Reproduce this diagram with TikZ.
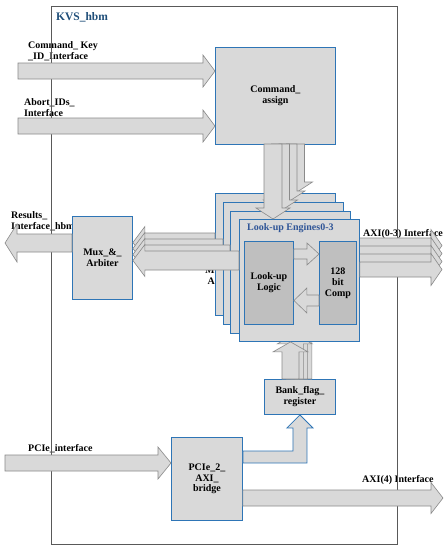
\documentclass[tikz,border=0pt]{standalone}
\usepackage{fontspec}
\setmainfont{Liberation Serif}
\usetikzlibrary{calc}
\definecolor{lgray}{HTML}{D9D9D9}
\definecolor{mgray}{HTML}{BFBFBF}
\definecolor{bblue}{HTML}{2E75B6}
\definecolor{agray}{HTML}{8A8A8A}
\definecolor{fgray}{HTML}{595959}
\definecolor{tblue}{HTML}{1F4E79}
\definecolor{eblue}{HTML}{2F5597}
% horizontal block arrow: from, to(tip), body half, head half, head length
\newcommand\harrow[6][]{\draw[arr,#1] let \p1=(#2),\p2=(#3),\n1={(\x2-\x1)/abs(\x2-\x1)*#6} in
  (\x1,{\y1+#4}) -- ({\x2-\n1},{\y1+#4}) -- ({\x2-\n1},{\y1+#5}) -- (\x2,\y1)
  -- ({\x2-\n1},{\y1-#5}) -- ({\x2-\n1},{\y1-#4}) -- (\x1,{\y1-#4}) -- cycle;}
% vertical block arrow
\newcommand\varrow[6][]{\draw[arr,#1] let \p1=(#2),\p2=(#3),\n1={(\y2-\y1)/abs(\y2-\y1)*#6} in
  ({\x1-#4},\y1) -- ({\x1-#4},{\y2-\n1}) -- ({\x1-#5},{\y2-\n1}) -- (\x1,\y2)
  -- ({\x1+#5},{\y2-\n1}) -- ({\x1+#4},{\y2-\n1}) -- ({\x1+#4},\y1) -- cycle;}
\begin{document}
\begin{tikzpicture}[x=1pt,y=-1pt,
  blk/.style={draw=bblue, fill=lgray, line width=0.9pt, inner sep=0pt, anchor=north west,
    align=center, font=\bfseries\fontsize{10}{10.8}\selectfont},
  arr/.style={draw=agray, fill=lgray, line width=0.6pt, line join=miter},
  lbl/.style={anchor=base west, inner sep=0pt, font=\bfseries\fontsize{10}{11}\selectfont}]
\useasboundingbox[fill=white] (0,0) rectangle (447,550);

% outside labels
\node[lbl] (l1) at (28,48.7) {Command\_ Key};
\node[lbl] (l2) at (28,59.3) {\_ID\_Interface};
\node[lbl] (l3) at (24,105.5) {Abort\_IDs\_};
\node[lbl] (l4) at (24,116.5) {Interface};
\node[lbl] (l5) at (11,218.7) {Results\_};
\node[lbl] (l6) at (11,229.3) {Interface\_hbm};
\node[lbl] (l7) at (363,236) {AXI(0-3) Interface};
\node[lbl] (l8) at (28,451) {PCIe\_interface};
\node[lbl] (l9) at (362,482.7) {AXI(4) Interface};
\node[lbl, font=\bfseries\fontsize{11.5}{12}\selectfont, text=tblue] (title) at (56,20.7) {KVS\_hbm};

% frame
\draw[fgray, line width=0.8pt] (51,6) rectangle (397,544);

% blocks
\node[blk, minimum width=120, minimum height=97] (cmd) at (215,47) {Command\_\\assign};
\node[blk, minimum width=60, minimum height=83] (mux) at (72,216) {Mux\_\&\_\\Arbiter};
\node[blk, minimum width=71, minimum height=35] (bank) at (264,379) {Bank\_flag\_\\register};
\node[blk, minimum width=71, minimum height=83] (bridge) at (171,437) {PCIe\_2\_\\AXI\_\\bridge};

% hidden label remnants
\node[lbl] (rm1) at (205,273.5) {M};
\node[lbl] (rm2) at (207.5,284) {A};

% stacked engines (back)
\node[blk, minimum width=120, minimum height=122] (e3) at (215,193) {};
\node[blk, minimum width=120, minimum height=122] (e2) at (223,202) {};
\node[blk, minimum width=120, minimum height=122] (e1) at (230,211) {};

% back arrows
\foreach \k in {3,2,1}{
  \coordinate (ts\k) at (273+7.5*\k,144);
  \varrow{ts\k}{ts\k |- e\k.north}{9pt}{17pt}{11pt}
}
\foreach \k in {3,2,1}{
  \coordinate (ls\k) at (132,260.5-6*\k);
  \harrow{e\k.west |- ls\k}{mux.east |- ls\k}{9.5pt}{16pt}{12pt}
}
\foreach \k in {3,2,1}{
  \coordinate (bs\k) at (290.5+4.3*\k,379);
  \varrow{bs\k}{bs\k |- e\k.south}{8.5pt}{17.5pt}{10pt}
}
\foreach \k in {3,2,1}{
  \coordinate (rt\k) at (442,269.5-8*\k);
  \harrow{e1.east |- rt\k}{rt\k}{7.5pt}{16pt}{11pt}
}

% front engine
\node[blk, minimum width=120, minimum height=122] (e0) at (239,219) {};
\node[lbl, text=eblue] (etitle) at (247,230) {Look-up Engines0-3};
\node[blk, fill=mgray, minimum width=49, minimum height=83] (logic) at (244,241) {Look-up\\Logic};
\node[blk, fill=mgray, minimum width=37, minimum height=83] (comp) at (319,241) {128\\bit\\Comp};

% front arrows
\coordinate (ts0) at (273,144);
\varrow{ts0}{ts0 |- e0.north}{9pt}{17pt}{11pt}
\coordinate (ls0) at (132,260.5);
\harrow{e0.west |- ls0}{mux.east |- ls0}{9.5pt}{16pt}{12pt}
\coordinate (bs0) at (290.5,379);
\varrow{bs0}{bs0 |- e0.south}{8.5pt}{17.5pt}{10pt}
\coordinate (rt0) at (442,269.5);
\harrow{e0.east |- rt0}{rt0}{7.5pt}{16pt}{11pt}

% inner arrows
\coordinate (lc) at (0,254);
\harrow{logic.east |- lc}{comp.west |- lc}{5pt}{11pt}{12pt}
\coordinate (cl) at (0,300.5);
\harrow{comp.west |- cl}{logic.east |- cl}{5.5pt}{12.5pt}{13pt}

% interface arrows
\coordinate (ck) at (18,71);
\harrow{ck}{cmd.west |- ck}{8pt}{16pt}{12pt}
\coordinate (ab) at (18,126);
\harrow{ab}{cmd.west |- ab}{8pt}{16pt}{12pt}
\coordinate (rs) at (5,243);
\harrow{mux.west |- rs}{rs}{9pt}{19pt}{12pt}
\coordinate (pc) at (5,463);
\harrow{pc}{bridge.west |- pc}{8pt}{16pt}{13pt}
\coordinate (ax) at (443,498);
\harrow{bridge.east |- ax}{ax}{8pt}{15.5pt}{12pt}

% elbow arrow bridge -> bank
\draw[arr, draw=bblue, line width=0.8pt] let \p1=(bridge.north east), \p2=(bank.south) in
  (\x1,{\y1-14pt}) -- ({\x2-7pt},{\y1-14pt}) -- ({\x2-7pt},{\y2-13pt}) -- ({\x2-13pt},{\y2-13pt})
  -- (\x2,\y2) -- ({\x2+13pt},{\y2-13pt}) -- ({\x2+7pt},{\y2-13pt}) -- ({\x2+7pt},{\y1-26pt})
  -- (\x1,{\y1-26pt}) -- cycle;
\end{tikzpicture}
\end{document}
